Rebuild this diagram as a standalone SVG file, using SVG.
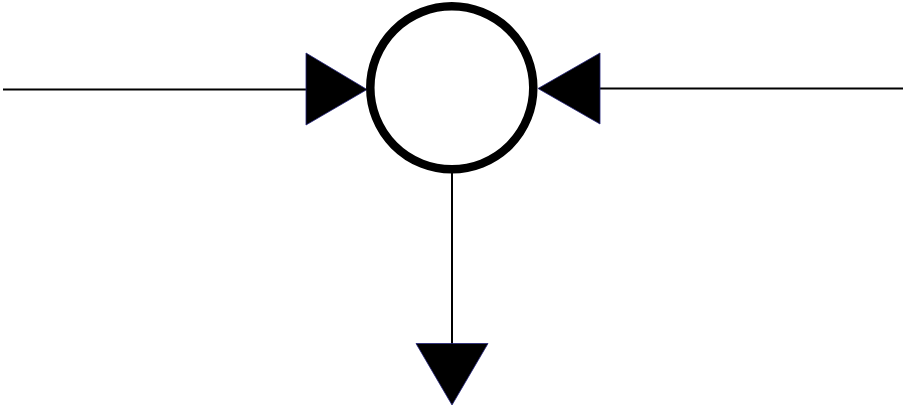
<svg xmlns="http://www.w3.org/2000/svg" width="905" height="406" viewBox="0 0 905 406">
<style>
.line{stroke:#000;stroke-width:2;fill:none}
.head{fill:#000;stroke:#22227a;stroke-width:0.8}
</style>
<rect width="905" height="406" fill="#fff"/>
<g id="connectors">
<line class="line" x1="3" y1="89.5" x2="308" y2="89.5"/>
<polygon class="head" points="306,53 306,125 367,89.5"/>
<line class="line" x1="598" y1="88.5" x2="903" y2="88.5"/>
<polygon class="head" points="600,53 600,124 538,88.5"/>
<line class="line" x1="452" y1="172" x2="452" y2="345"/>
<polygon class="head" points="416,343.5 488,343.5 452,405"/>
</g>
<g id="node">
<circle cx="451.8" cy="87.8" r="81.5" fill="#fff" stroke="#000" stroke-width="8.5"/>
</g>
</svg>
